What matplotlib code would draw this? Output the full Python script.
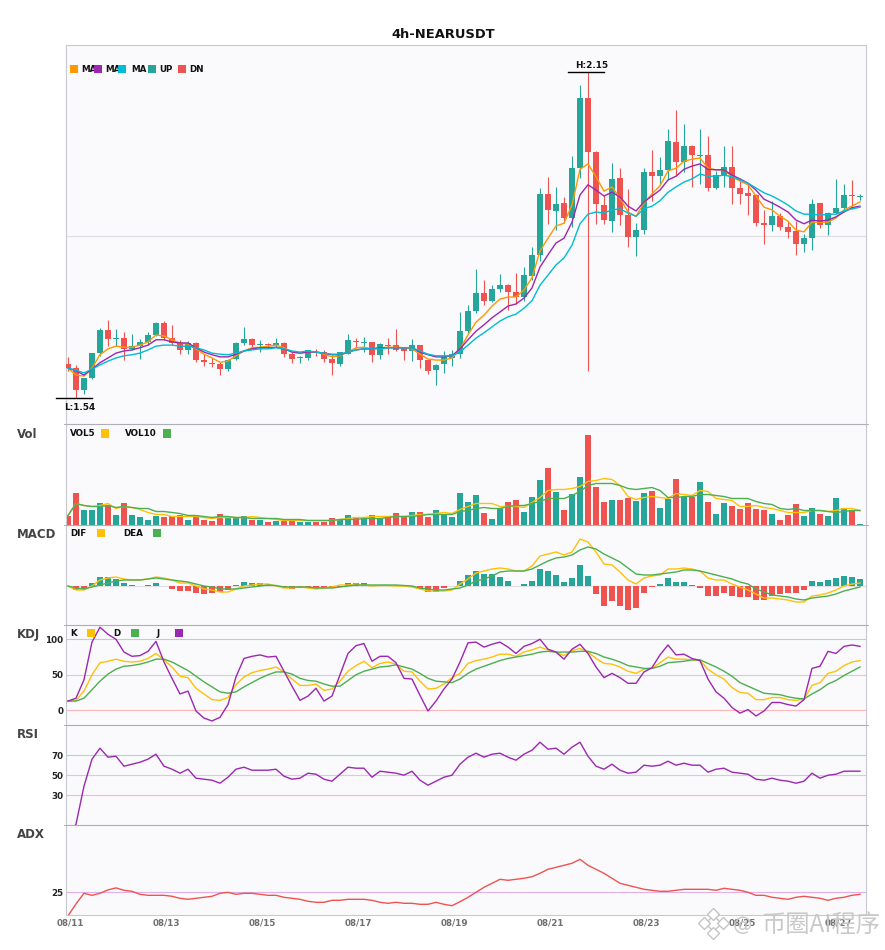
#!/usr/bin/env python

from matplotlib import pyplot
from matplotlib.lines import Line2D
from matplotlib.patches import Rectangle
import numpy

# Data. Volume and MACD have no scale on the chart.

title = "4h-NEARUSDT"
date_labels = ["08/11", "08/13", "08/15", "08/17", "08/19", "08/21", "08/23", "08/25", "08/27"]

opens = [
    1.604, 1.596, 1.555, 1.577, 1.624, 1.667, 1.650, 1.652, 1.632, 1.637,
    1.645, 1.658, 1.680, 1.652, 1.643, 1.630, 1.643, 1.611, 1.606, 1.604,
    1.594, 1.613, 1.643, 1.650, 1.639, 1.641, 1.639, 1.643, 1.622, 1.615,
    1.615, 1.626, 1.626, 1.613, 1.604, 1.622, 1.647, 1.643, 1.645, 1.621,
    1.639, 1.639, 1.634, 1.628, 1.639, 1.611, 1.592, 1.604, 1.615, 1.622,
    1.665, 1.703, 1.736, 1.722, 1.744, 1.751, 1.738, 1.729, 1.768, 1.808,
    1.922, 1.890, 1.905, 1.877, 1.970, 2.101, 2.000, 1.901, 1.871, 1.952,
    1.882, 1.841, 1.854, 1.963, 1.955, 1.967, 2.019, 1.982, 2.012, 1.993,
    1.995, 1.933, 1.957, 1.972, 1.933, 1.924, 1.920, 1.867, 1.864, 1.880,
    1.860, 1.852, 1.828, 1.839, 1.905, 1.864, 1.886, 1.896, 1.920, 1.916,
]
highs = [
    1.617, 1.602, 1.577, 1.624, 1.671, 1.686, 1.669, 1.664, 1.660, 1.650,
    1.664, 1.682, 1.684, 1.677, 1.649, 1.647, 1.645, 1.622, 1.615, 1.607,
    1.613, 1.645, 1.673, 1.652, 1.649, 1.643, 1.652, 1.645, 1.626, 1.619,
    1.630, 1.632, 1.630, 1.621, 1.626, 1.660, 1.652, 1.654, 1.645, 1.643,
    1.652, 1.669, 1.635, 1.650, 1.639, 1.611, 1.604, 1.628, 1.630, 1.701,
    1.714, 1.781, 1.761, 1.751, 1.772, 1.753, 1.774, 1.785, 1.823, 1.933,
    1.954, 1.935, 1.916, 1.993, 2.126, 2.150, 2.002, 1.920, 1.980, 1.970,
    1.931, 1.867, 1.970, 2.004, 1.991, 2.043, 2.079, 2.053, 2.013, 2.043,
    2.030, 1.965, 2.012, 2.012, 1.948, 1.939, 1.922, 1.892, 1.909, 1.886,
    1.869, 1.871, 1.847, 1.912, 1.905, 1.888, 1.950, 1.940, 1.948, 1.922,
]
lows = [
    1.591, 1.540, 1.547, 1.576, 1.619, 1.637, 1.637, 1.611, 1.630, 1.613,
    1.639, 1.656, 1.649, 1.639, 1.622, 1.622, 1.607, 1.600, 1.598, 1.583,
    1.591, 1.611, 1.639, 1.634, 1.626, 1.635, 1.635, 1.617, 1.606, 1.606,
    1.611, 1.619, 1.607, 1.583, 1.600, 1.622, 1.634, 1.626, 1.607, 1.613,
    1.622, 1.628, 1.611, 1.609, 1.596, 1.585, 1.564, 1.587, 1.600, 1.615,
    1.660, 1.699, 1.714, 1.720, 1.738, 1.705, 1.716, 1.722, 1.761, 1.796,
    1.866, 1.854, 1.867, 1.860, 1.952, 1.591, 1.866, 1.866, 1.851, 1.864,
    1.823, 1.806, 1.847, 1.909, 1.940, 1.948, 1.955, 1.963, 1.935, 1.940,
    1.927, 1.931, 1.935, 1.903, 1.903, 1.882, 1.862, 1.828, 1.852, 1.854,
    1.839, 1.808, 1.813, 1.817, 1.858, 1.845, 1.884, 1.892, 1.894, 1.910,
]
closes = [
    1.596, 1.555, 1.577, 1.624, 1.667, 1.650, 1.652, 1.632, 1.637, 1.645,
    1.658, 1.680, 1.652, 1.643, 1.630, 1.643, 1.611, 1.607, 1.604, 1.594,
    1.611, 1.643, 1.650, 1.639, 1.641, 1.639, 1.643, 1.622, 1.613, 1.617,
    1.630, 1.624, 1.613, 1.606, 1.626, 1.649, 1.645, 1.645, 1.621, 1.641,
    1.637, 1.630, 1.628, 1.639, 1.611, 1.591, 1.602, 1.617, 1.622, 1.665,
    1.703, 1.736, 1.722, 1.744, 1.751, 1.738, 1.729, 1.770, 1.808, 1.922,
    1.892, 1.903, 1.877, 1.970, 2.101, 2.000, 1.903, 1.873, 1.950, 1.882,
    1.841, 1.854, 1.963, 1.955, 1.967, 2.021, 1.982, 2.012, 1.995, 1.995,
    1.933, 1.957, 1.972, 1.933, 1.922, 1.918, 1.867, 1.864, 1.880, 1.860,
    1.851, 1.828, 1.839, 1.903, 1.864, 1.886, 1.896, 1.920, 1.918, 1.918,
]

ma_fast = [
    1.596, 1.583, 1.581, 1.596, 1.621, 1.632, 1.637, 1.635, 1.635, 1.639,
    1.645, 1.658, 1.656, 1.649, 1.643, 1.641, 1.632, 1.622, 1.615, 1.607,
    1.609, 1.619, 1.628, 1.634, 1.635, 1.637, 1.639, 1.634, 1.626, 1.624,
    1.626, 1.626, 1.622, 1.617, 1.619, 1.626, 1.634, 1.635, 1.632, 1.634,
    1.635, 1.635, 1.634, 1.632, 1.622, 1.613, 1.611, 1.611, 1.615, 1.632,
    1.658, 1.682, 1.695, 1.712, 1.725, 1.729, 1.729, 1.742, 1.765, 1.815,
    1.839, 1.862, 1.867, 1.901, 1.968, 1.978, 1.954, 1.927, 1.935, 1.914,
    1.888, 1.880, 1.905, 1.922, 1.937, 1.965, 1.970, 1.983, 1.987, 1.989,
    1.970, 1.967, 1.967, 1.954, 1.946, 1.939, 1.918, 1.897, 1.892, 1.880,
    1.871, 1.854, 1.851, 1.869, 1.869, 1.869, 1.877, 1.892, 1.899, 1.907,
]
ma_mid = [
    1.596, 1.591, 1.583, 1.594, 1.606, 1.615, 1.624, 1.628, 1.630, 1.634,
    1.639, 1.649, 1.649, 1.645, 1.643, 1.643, 1.634, 1.626, 1.621, 1.617,
    1.617, 1.622, 1.628, 1.632, 1.634, 1.634, 1.635, 1.632, 1.626, 1.624,
    1.626, 1.626, 1.624, 1.621, 1.621, 1.626, 1.630, 1.632, 1.632, 1.634,
    1.634, 1.634, 1.634, 1.634, 1.626, 1.621, 1.617, 1.617, 1.619, 1.632,
    1.649, 1.665, 1.677, 1.690, 1.701, 1.712, 1.716, 1.727, 1.746, 1.785,
    1.808, 1.830, 1.839, 1.869, 1.920, 1.939, 1.929, 1.918, 1.925, 1.916,
    1.899, 1.890, 1.907, 1.918, 1.929, 1.948, 1.955, 1.968, 1.974, 1.978,
    1.968, 1.967, 1.967, 1.957, 1.950, 1.942, 1.929, 1.912, 1.905, 1.897,
    1.888, 1.873, 1.866, 1.873, 1.871, 1.873, 1.879, 1.888, 1.896, 1.899,
]
ma_slow = [
    1.596, 1.592, 1.587, 1.594, 1.602, 1.609, 1.615, 1.619, 1.621, 1.624,
    1.630, 1.637, 1.639, 1.639, 1.637, 1.637, 1.634, 1.630, 1.624, 1.622,
    1.621, 1.624, 1.628, 1.630, 1.632, 1.632, 1.634, 1.632, 1.628, 1.626,
    1.628, 1.626, 1.624, 1.622, 1.622, 1.626, 1.630, 1.632, 1.632, 1.632,
    1.634, 1.634, 1.634, 1.634, 1.628, 1.622, 1.619, 1.619, 1.619, 1.626,
    1.639, 1.652, 1.662, 1.673, 1.684, 1.692, 1.697, 1.708, 1.722, 1.751,
    1.770, 1.789, 1.802, 1.826, 1.866, 1.884, 1.888, 1.886, 1.892, 1.894,
    1.886, 1.880, 1.894, 1.899, 1.909, 1.925, 1.935, 1.944, 1.950, 1.959,
    1.955, 1.955, 1.957, 1.954, 1.948, 1.942, 1.933, 1.924, 1.918, 1.910,
    1.901, 1.890, 1.884, 1.884, 1.882, 1.884, 1.884, 1.890, 1.894, 1.897,
]

volume = [
    9, 32, 15, 15, 22, 20, 10, 22, 10, 8,
    5, 9, 8, 9, 10, 5, 8, 5, 4, 11,
    7, 7, 9, 5, 5, 3, 4, 4, 4, 3,
    3, 3, 3, 7, 6, 10, 8, 7, 10, 6,
    9, 12, 8, 13, 13, 8, 15, 11, 8, 32,
    23, 30, 12, 6, 17, 23, 25, 13, 28, 45,
    57, 33, 15, 31, 48, 90, 38, 23, 25, 25,
    27, 24, 32, 34, 17, 26, 46, 28, 28, 43,
    23, 11, 22, 19, 16, 22, 16, 15, 11, 5,
    10, 21, 9, 17, 11, 9, 27, 17, 15, 0.4,
]
vol5 = [
    9, 21, 19, 18, 19, 21, 16, 18, 17, 15,
    12, 10, 10, 8, 8, 8, 8, 7, 6, 7,
    7, 7, 7, 8, 7, 6, 5, 4, 4, 4,
    4, 4, 4, 4, 5, 6, 7, 7, 8, 8,
    8, 8, 8, 9, 10, 10, 11, 12, 11, 15,
    18, 21, 21, 21, 18, 18, 18, 17, 22, 27,
    34, 35, 35, 36, 38, 43, 44, 46, 45, 39,
    28, 25, 27, 28, 27, 26, 31, 30, 29, 34,
    33, 26, 25, 24, 18, 18, 19, 17, 16, 14,
    12, 12, 12, 14, 14, 13, 14, 16, 16, 14,
]
vol10 = [
    9, 21, 19, 18, 18, 19, 17, 18, 17, 16,
    16, 13, 13, 12, 11, 9, 9, 8, 7, 8,
    8, 7, 7, 6, 6, 6, 6, 5, 5, 5,
    4, 4, 4, 4, 5, 5, 5, 6, 6, 6,
    7, 8, 8, 8, 9, 10, 10, 10, 10, 13,
    14, 16, 17, 16, 16, 18, 19, 19, 21, 23,
    26, 26, 26, 29, 33, 39, 41, 41, 41, 39,
    36, 35, 36, 37, 34, 27, 27, 28, 28, 30,
    30, 29, 28, 26, 26, 26, 23, 21, 20, 16,
    15, 16, 14, 14, 14, 13, 12, 13, 14, 14,
]

macd_hist = [
    0, -4, -3, 3, 9, 9, 7, 3, 1, 0,
    1, 3, 0, -3, -5, -5, -7, -8, -7, -6,
    -4, 1, 4, 3, 3, 1, 0, -0.5, -3, -2,
    -2, -2, -2, -2, -1, 3, 3, 3, 0.5, 0.3,
    0.3, 0.3, 0.3, -0.5, -3, -6, -6, -2, 0, 5,
    11, 15, 12, 12, 9, 5, 0, 2, 5, 17,
    15, 11, 4, 8, 21, 10, -8, -20, -15, -20,
    -24, -22, -7, -1, 2, 8, 4, 4, 1, -2,
    -10, -10, -7, -10, -11, -11, -14, -14, -10, -8,
    -7, -7, -4, 5, 4, 6, 8, 10, 9, 7,
]
dif = [
    0, -4, -4, 0, 6, 8, 9, 7, 6, 6,
    7, 9, 8, 6, 3, 3, 0, -3, -4, -6,
    -6, -3, 0, 1, 2, 2, 0, -2, -2, -1,
    -2, -3, -2, -1, 1, 1, 2, 1, 0, 0.5,
    0.5, 0, 0, -1, -3, -5, -5, -5, -4, 2,
    7, 13, 15, 17, 18, 17, 15, 15, 20, 30,
    32, 34, 31, 34, 47, 44, 34, 22, 21, 14,
    6, 2, 8, 10, 11, 17, 17, 18, 17, 15,
    8, 6, 6, 2, -1, -4, -8, -12, -12, -13,
    -14, -16, -16, -10, -9, -7, -4, 0, 2, 3,
]
dea = [
    0, -2, -3, -1, 1, 3, 5, 6, 6, 6,
    7, 8, 7, 6, 5, 4, 2, 0, -1, -3,
    -3, -3, -2, -1, 0, 1, 0.5, -1, -1, -1,
    -1, -2, -2, -2, -1, 0, 1, 1, 1, 1,
    1, 1, 0.5, 0, -2, -3, -4, -4, -3, -2,
    1, 5, 7, 10, 14, 15, 15, 15, 17, 21,
    25, 28, 29, 31, 36, 39, 37, 32, 28, 24,
    18, 12, 11, 11, 12, 13, 14, 16, 16, 15,
    13, 11, 9, 7, 4, 2, -3, -6, -9, -10,
    -11, -13, -14, -12, -11, -10, -8, -5, -3, -1,
]

kdj_k = [
    13, 14, 27, 50, 67, 69, 72, 69, 68, 69,
    73, 80, 71, 61, 48, 46, 31, 23, 15, 14,
    18, 36, 47, 53, 56, 58, 61, 54, 44, 35,
    35, 37, 28, 30, 41, 55, 63, 69, 60, 66,
    68, 65, 55, 54, 41, 30, 31, 37, 46, 52,
    66, 70, 72, 75, 79, 79, 76, 82, 85, 89,
    85, 82, 77, 84, 87, 82, 73, 66, 65, 61,
    55, 52, 58, 59, 67, 75, 72, 72, 71, 70,
    58, 50, 44, 32, 25, 24, 15, 15, 18, 18,
    15, 14, 16, 35, 39, 52, 55, 63, 68, 70,
]
kdj_d = [
    13, 13, 17, 29, 41, 51, 58, 62, 63, 65,
    68, 72, 72, 68, 62, 56, 48, 40, 33, 26,
    24, 26, 33, 39, 45, 50, 54, 54, 51, 45,
    42, 41, 37, 34, 34, 42, 50, 55, 58, 61,
    62, 64, 61, 58, 52, 45, 41, 40, 39, 44,
    52, 58, 62, 66, 70, 73, 75, 77, 79, 82,
    83, 82, 82, 82, 83, 83, 80, 75, 72, 68,
    63, 61, 59, 59, 62, 67, 68, 69, 71, 71,
    66, 61, 55, 48, 39, 34, 29, 24, 23, 22,
    19, 17, 16, 23, 29, 37, 42, 49, 55, 61,
]
kdj_j = [
    13, 17, 43, 96, 117, 107, 100, 82, 76, 77,
    83, 97, 68, 45, 23, 27, -1, -11, -15, -10,
    8, 47, 73, 76, 78, 75, 76, 55, 34, 14,
    20, 31, 13, 20, 50, 80, 91, 94, 69, 76,
    76, 67, 45, 44, 21, -1, 13, 30, 44, 68,
    95, 96, 89, 93, 96, 89, 80, 90, 94, 100,
    86, 82, 72, 86, 93, 80, 61, 46, 52, 46,
    38, 38, 54, 60, 78, 92, 78, 79, 73, 70,
    44, 26, 17, 4, -4, 1, -8, -1, 11, 11,
    8, 6, 15, 59, 62, 83, 80, 90, 92, 90,
]

rsi = [
    -10, 1, 39, 66, 77, 68, 69, 59, 61, 63,
    66, 71, 59, 56, 52, 56, 47, 46, 45, 42,
    48, 56, 58, 55, 55, 55, 56, 49, 46, 47,
    52, 51, 46, 44, 51, 58, 57, 57, 48, 54,
    53, 52, 50, 54, 45, 40, 44, 48, 50, 61,
    68, 72, 68, 71, 72, 68, 65, 71, 75, 83,
    76, 77, 71, 78, 83, 69, 59, 56, 61, 55,
    52, 53, 60, 59, 60, 64, 60, 62, 60, 60,
    53, 56, 57, 53, 52, 51, 46, 45, 47, 45,
    44, 42, 44, 52, 47, 50, 51, 54, 54, 54,
]

adx = [
    13.2, 19.2, 24.5, 23.5, 24.5, 26.2, 27.2, 26, 25.5, 24,
    23.5, 23.5, 23.5, 23, 22, 21.5, 22, 22.5, 23, 24.5,
    25, 24, 24.5, 24.5, 24, 23.5, 23.5, 22.5, 22, 21.5,
    20.5, 20, 20, 21, 21, 21.5, 21.5, 21.5, 21, 20,
    19.5, 20, 19.5, 19.5, 19, 19, 20, 19, 18.3, 20.3,
    22.5, 25, 27.5, 29.5, 31.5, 31, 31.5, 32, 32.8, 34.5,
    36.5, 37.5, 38.5, 39.5, 41.5, 38.5, 36.5, 34.5, 32, 29.5,
    28.5, 27.5, 26.5, 26, 25.5, 25.5, 26, 26.5, 26.5, 26.5,
    26.5, 26, 27, 26.5, 26, 25, 23.5, 23.5, 22.5, 22,
    21.5, 22.5, 23, 22.5, 22, 21, 22, 22.5, 23.5, 24,
]

# Style

teal = "#26a69a"
red = "#ef5350"
orange = "#ff9800"
purple = "#9c27b0"
cyan = "#00bcd4"
yellow = "#ffc107"
green = "#4caf50"
panel_bg = "#fafafc"
label_grey = "#444444"
line_w = 1.0

W = 885
H = 950
dpi = 100
ax_left = 65.5
ax_right = 866.0
xlim = (-0.31, 99.75)


def rect(y_top, y_bottom):
    return [ax_left / W, 1 - y_bottom / H, (ax_right - ax_left) / W, (y_bottom - y_top) / H]


def fx(x):
    return x / W


def fy(y):
    return 1 - y / H


def new_panel(y_top, y_bottom, ylim, top_color="#aeaeb6"):
    ax = fig.add_axes(rect(y_top, y_bottom), facecolor=panel_bg)
    ax.set_xlim(*xlim)
    ax.set_ylim(*ylim)
    ax.set_xticks([])
    ax.set_yticks([])
    ax.tick_params(length=0, pad=1.5)
    for name, spine in ax.spines.items():
        spine.set_linewidth(0.8)
        spine.set_color("#c8c8d0")
    ax.spines["top"].set_color(top_color)
    ax.spines["bottom"].set_visible(False)
    return ax


def legend_item(text, x_text, x_square, y, color):
    fig.text(fx(x_text), fy(y), text, fontsize=6.3, fontweight="bold", color="#111111", va="center", ha="left", zorder=5)
    fig.add_artist(
        Rectangle((fx(x_square), fy(y + 4)), 8 / W, 8 / H, transform=fig.transFigure, color=color, lw=0, zorder=6)
    )


def panel_label(text, y):
    fig.text(fx(17), fy(y), text, fontsize=8.5, fontweight="bold", color=label_grey, va="center", ha="left")


fig = pyplot.figure(figsize=(W / dpi, H / dpi), dpi=dpi, facecolor="white")
idx = numpy.arange(len(closes))
o = numpy.array(opens)
c = numpy.array(closes)
candle_colors = [teal if c[i] >= o[i] else red for i in idx]

fig.text(0.5012, fy(34.5), title, fontsize=9.4, fontweight="bold", color="#111111", ha="center", va="center")

# Candles.
ax = new_panel(45, 424, (1.4914, 2.2005), top_color="#c8c8d0")
ax.axhline(1.843, color="#dedee2", lw=0.8, zorder=1)
ax.vlines(idx, lows, highs, colors=candle_colors, lw=0.8, zorder=2)
ax.bar(idx, numpy.maximum(numpy.abs(c - o), 0.0015), bottom=numpy.minimum(o, c), width=0.75, color=candle_colors, zorder=3)
ax.plot(idx, ma_fast, color=orange, lw=line_w, zorder=4)
ax.plot(idx, ma_mid, color=purple, lw=line_w, zorder=4)
ax.plot(idx, ma_slow, color=cyan, lw=line_w, zorder=4)

i_high = int(numpy.argmax(highs))
i_low = int(numpy.argmin(lows))
ax.plot([i_high - 2.5, i_high + 2], [highs[i_high]] * 2, color="black", lw=1, clip_on=False, zorder=5)
ax.plot([i_low - 2.5, i_low + 2], [lows[i_low]] * 2, color="black", lw=1, clip_on=False, zorder=5)
ax.annotate(
    f"H:{highs[i_high]:.2f}", (i_high, highs[i_high]), xytext=(3, 5), textcoords="offset points",
    fontsize=6.4, fontweight="bold", color="#111111", ha="center", va="center",
)
ax.annotate(
    f"L:{lows[i_low]:.2f}", (i_low, lows[i_low]), xytext=(2.5, -6.5), textcoords="offset points",
    fontsize=6.4, fontweight="bold", color="#111111", ha="center", va="center", annotation_clip=False,
)

legend_item("MA", 81, 70, 69, orange)
legend_item("MA", 105, 94, 69, purple)
legend_item("MA", 131, 118, 69, cyan)
legend_item("UP", 159, 148, 69, teal)
legend_item("DN", 189, 178, 69, red)

# Volume.
ax = new_panel(424, 524.5, (0, 100.5))
ax.bar(idx, volume, width=0.75, color=candle_colors, zorder=2)
ax.plot(idx, vol5, color=yellow, lw=line_w, zorder=3)
ax.plot(idx, vol10, color=green, lw=line_w, zorder=3)
panel_label("Vol", 434.7)
legend_item("VOL5", 70, 101, 433.5, yellow)
legend_item("VOL10", 125, 163, 433.5, green)

# MACD.
ax = new_panel(524.5, 624.5, (-38.5, 61.5))
ax.axhline(0, color="#dedee2", lw=0.8, zorder=1)
hist_colors = [teal if v > 0 else red for v in macd_hist]
ax.bar(idx, macd_hist, width=0.75, color=hist_colors, zorder=2)
ax.plot(idx, dif, color=yellow, lw=line_w, zorder=3)
ax.plot(idx, dea, color=green, lw=line_w, zorder=3)
panel_label("MACD", 534.7)
legend_item("DIF", 70, 97, 533, yellow)
legend_item("DEA", 123, 153, 533, green)

# KDJ.
ax = new_panel(624.5, 724.5, (-20, 120.8))
ax.axhline(100, color="#a6d8d4", lw=0.8, zorder=1)
ax.axhline(50, color="#d0d0d4", lw=0.8, zorder=1)
ax.axhline(0, color="#ffb8b8", lw=0.8, zorder=1)
ax.plot(idx, kdj_k, color=yellow, lw=line_w, zorder=3)
ax.plot(idx, kdj_d, color=green, lw=line_w, zorder=3)
ax.plot(idx, kdj_j, color=purple, lw=line_w, zorder=3)
ax.set_yticks([0, 50, 100])
ax.set_yticklabels(["0", "50", "100"], fontsize=6.3, fontweight="bold", color="#222222")
panel_label("KDJ", 634.7)
legend_item("K", 70.5, 87, 633, yellow)
legend_item("D", 113, 131, 633, green)
legend_item("J", 157, 175, 633, purple)

# RSI.
ax = new_panel(724.5, 824.5, (0.7, 100.7))
ax.axhline(70, color="#a6d8d4", lw=0.8, zorder=1)
ax.axhline(50, color="#d0d0d4", lw=0.8, zorder=1)
ax.axhline(30, color="#ffb8b8", lw=0.8, zorder=1)
ax.plot(idx, rsi, color=purple, lw=line_w, zorder=3)
ax.set_yticks([30, 50, 70])
ax.set_yticklabels(["30", "50", "70"], fontsize=6.3, fontweight="bold", color="#222222")
panel_label("RSI", 734.7)

# ADX, the bottom panel carries the dates.
ax = new_panel(824.5, 915.3, (13.5, 58.9))
ax.spines["bottom"].set_visible(True)
ax.axhline(25, color="#dfb0ea", lw=0.8, zorder=1)
ax.plot(idx, adx, color=red, lw=line_w, zorder=3)
ax.set_yticks([25])
ax.set_yticklabels(["25"], fontsize=6.3, fontweight="bold", color="#222222")
ax.set_xticks(idx[::12] + 0.25)
ax.set_xticklabels(date_labels, fontsize=6.3, fontweight="bold", color="#707070")
ax.tick_params(axis="x", pad=2)
panel_label("ADX", 834.7)

# Small overhang of the panel lines at both sides.
for y in [424, 524.5, 624.5, 724.5, 824.5]:
    fig.add_artist(Line2D([fx(64), fx(868)], [fy(y), fy(y)], color="#aeaeb6", lw=0.7, zorder=0))

# Watermark.
mark_color = "#c4c4c4"
for dx, dy, size in [(713, 923, 8), (703.5, 923, 6), (722.5, 923, 6), (713, 913.5, 6), (713, 932.5, 6)]:
    fig.add_artist(Line2D([fx(dx)], [fy(dy)], marker="D", ms=size, mfc="white", mec=mark_color, mew=1, ls="none", zorder=10))
fig.text(fx(743), fy(925), "@", fontsize=14, color=mark_color, ha="center", va="center", alpha=0.9, zorder=10)
fig.text(fx(761), fy(925), "币圈AI程序", fontsize=17.5, color=mark_color, family=["Noto Sans CJK SC", "DejaVu Sans"],
         fontweight="light", ha="left", va="center", alpha=0.9, zorder=10)

fig.savefig("out.png", dpi=dpi, facecolor="white")
